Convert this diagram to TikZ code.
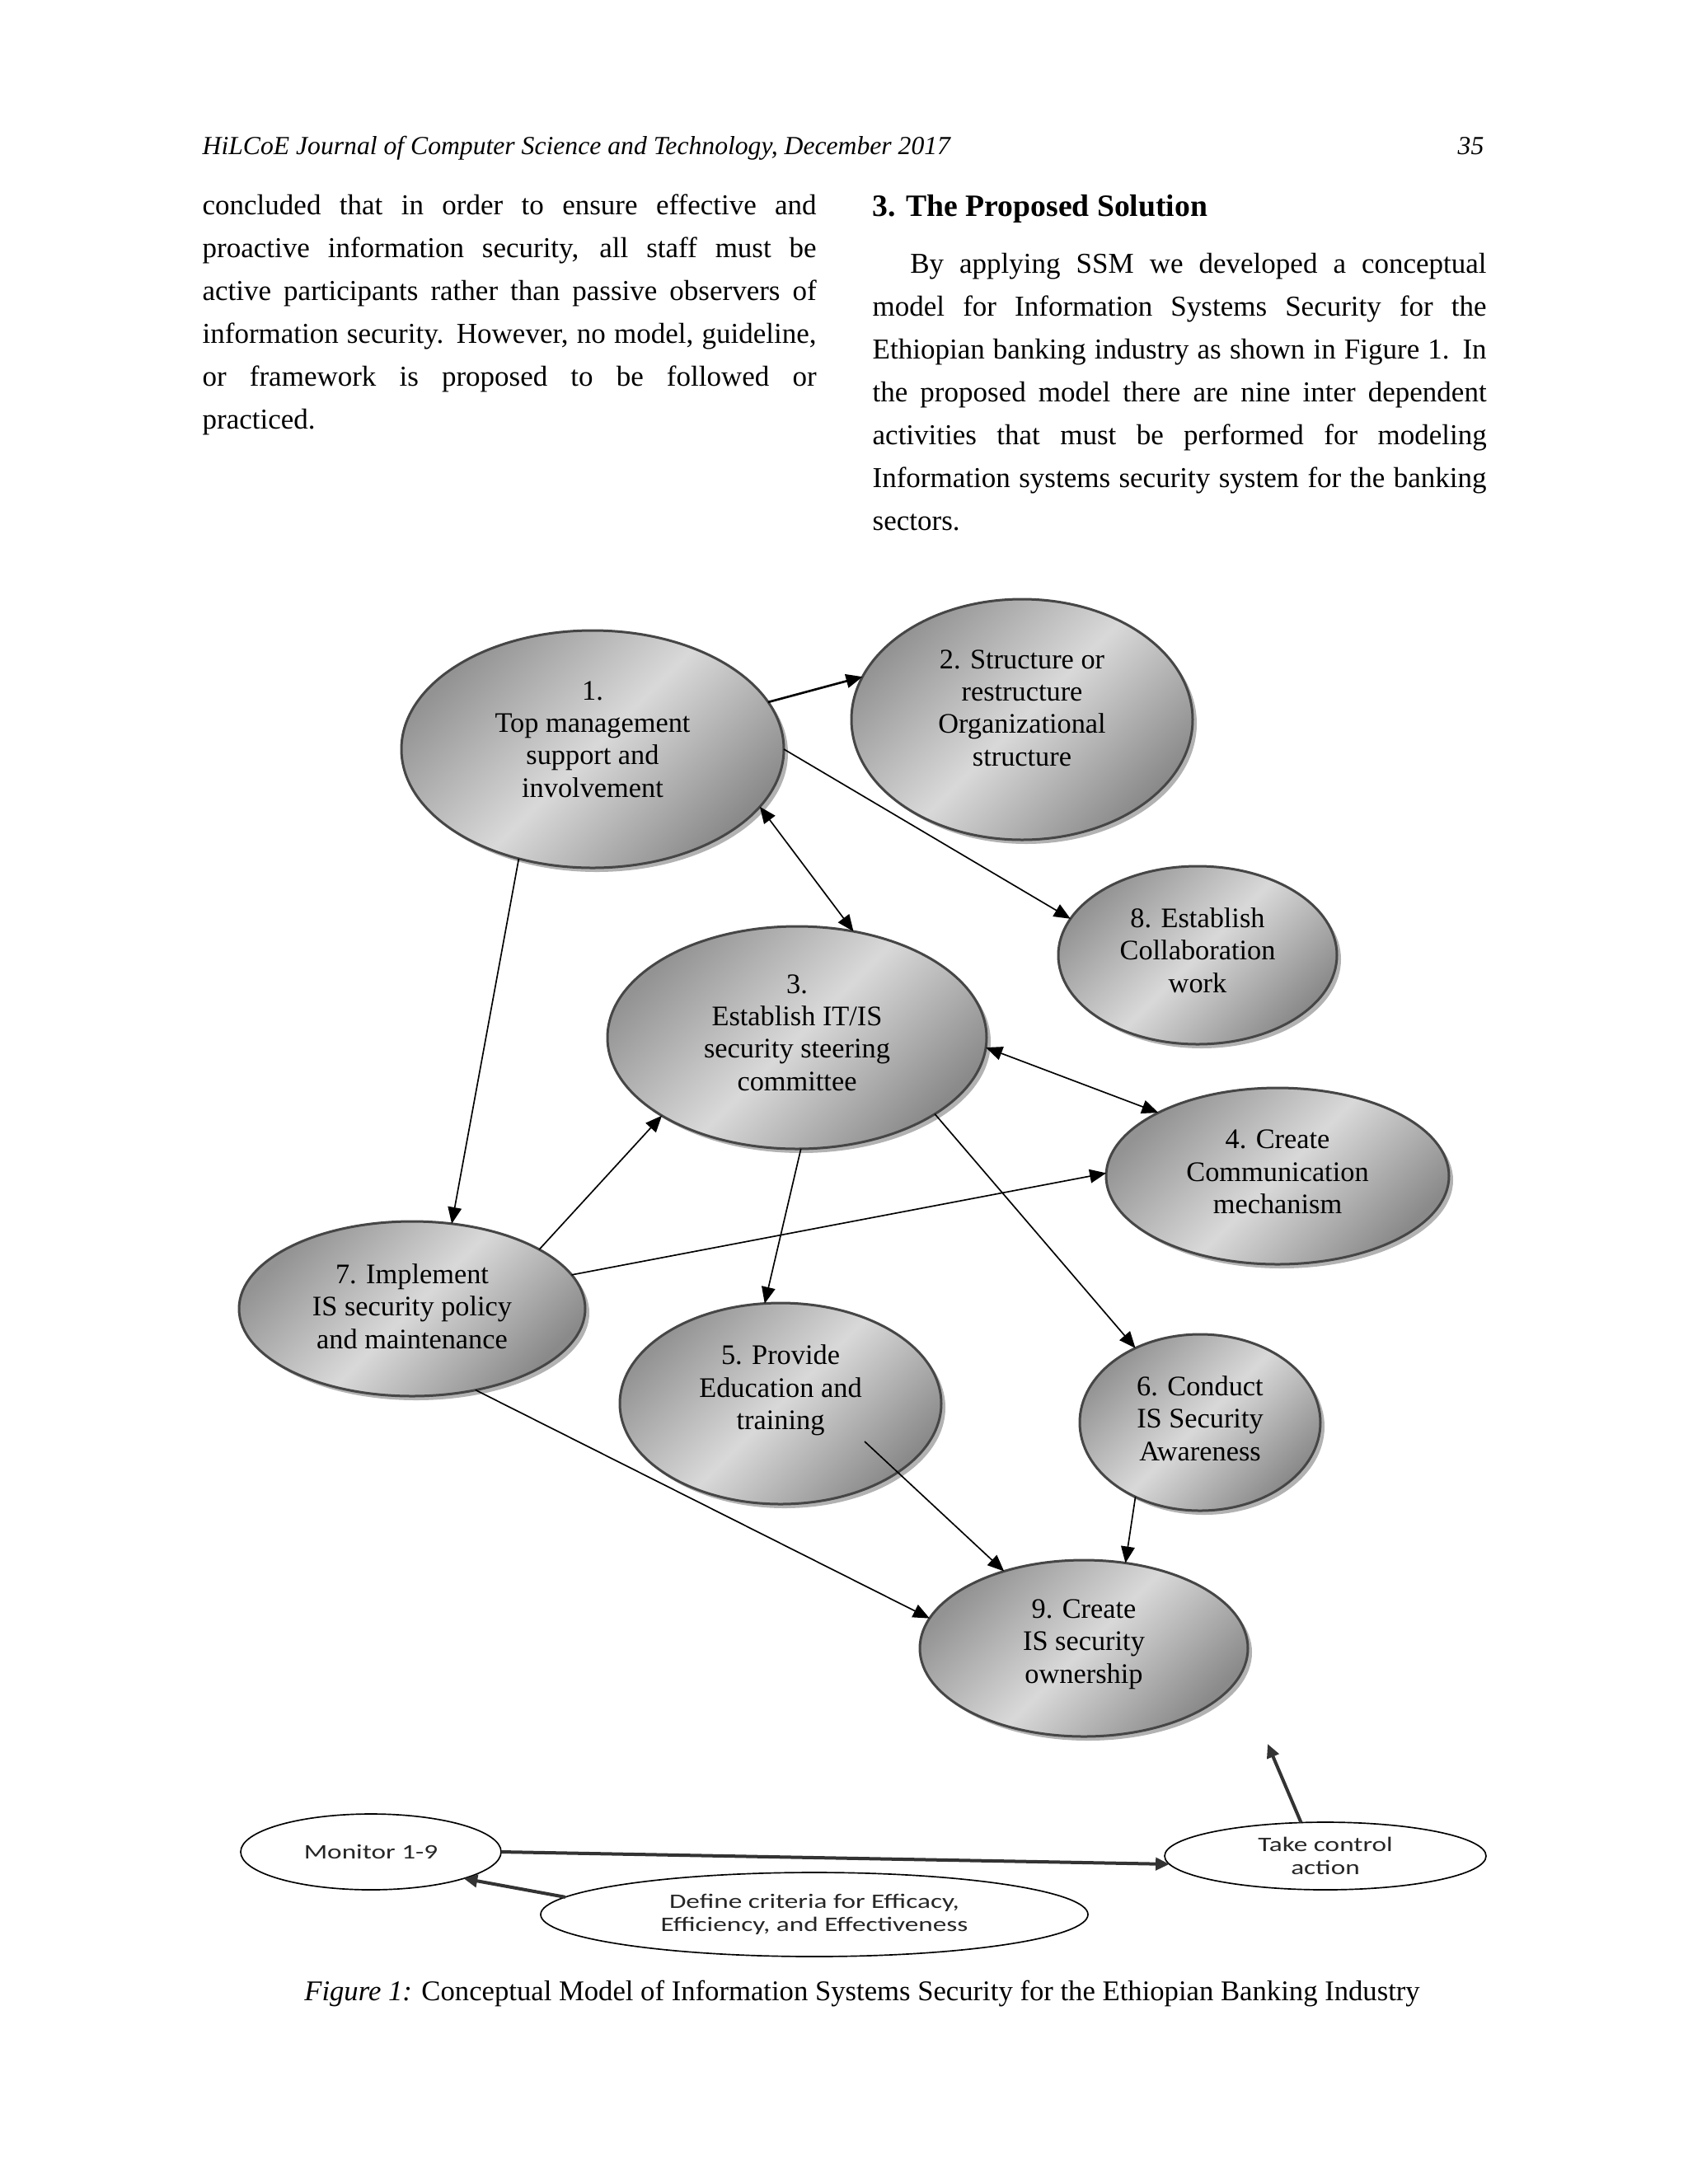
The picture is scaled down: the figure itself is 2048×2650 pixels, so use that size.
\documentclass[tikz,border=0pt]{standalone}
\usepackage{fontspec}
\setmainfont{Liberation Serif}
\newfontfamily\calibri{Carlito}[FakeStretch=1.33]
\usetikzlibrary{shapes.geometric,arrows.meta,shadows,calc}

\newcommand{\jl}[1]{\makebox[223.5pt][s]{#1}}

\tikzset{
  act/.style={ellipse, draw=gray!55!black, line width=0.9pt, inner sep=0pt, outer sep=0pt,
    left color=gray!85, right color=gray!92, middle color=gray!30, shading angle=45,
    drop shadow={shadow xshift=1.5pt, shadow yshift=-1.5pt, fill=gray!60, opacity=1}},
  acttxt/.style={align=center, inner sep=0pt, font=\fontsize{10.3}{11.8}\selectfont},
  ctl/.style={ellipse, draw=black, line width=0.5pt, fill=white, inner sep=0pt, outer sep=0pt,
    align=center, font=\calibri\fontsize{7.5}{8.4}\selectfont, text=black!85},
  flow/.style={-{Triangle[length=6pt,width=5pt]}, line width=0.5pt},
  dflow/.style={{Triangle[length=6pt,width=5pt]}-{Triangle[length=6pt,width=5pt]}, line width=0.5pt},
  ctlflow/.style={-{Triangle[length=5pt,width=4.5pt]}, line width=1.2pt, draw=black!80},
  body/.style={anchor=base west, align=left, inner sep=0pt, font=\fontsize{10.5}{15.57}\selectfont},
}

\begin{document}
\begin{tikzpicture}[x=0.3pt,y=-0.3pt]
  \fill[white] (0,0) rectangle (2048,2650);
  \useasboundingbox (0,0) rectangle (2048,2650);

  % page header and text (base = last line)
  \node[anchor=base west, inner sep=0pt, font=\itshape\fontsize{9.5}{11}\selectfont] (head) at (245,187)
    {HiLCoE Journal of Computer Science and Technology, December 2017};
  \node[anchor=base east, inner sep=0pt, font=\itshape\fontsize{9.5}{11}\selectfont] (pageno) at (1801,187) {35};

  \node[body] (colL) at (245,520) {%
    \jl{concluded that in order to ensure effective and}\\
    \jl{proactive information security, all staff must be}\\
    \jl{active participants rather than passive observers of}\\
    \jl{information security. However, no model, guideline,}\\
    \jl{or framework is proposed to be followed or}\\
    practiced.};

  \node[anchor=base west, inner sep=0pt, font=\bfseries\fontsize{11.3}{13}\selectfont] (sec) at (1058,262)
    {3. The Proposed Solution};
  \node[body] (colR) at (1058,643) {%
    \jl{\hspace{13.7pt}By applying SSM we developed a conceptual}\\
    \jl{model for Information Systems Security for the}\\
    \jl{Ethiopian banking industry as shown in Figure 1. In}\\
    \jl{the proposed model there are nine inter dependent}\\
    \jl{activities that must be performed for modeling}\\
    \jl{Information systems security system for the banking}\\
    sectors.};

  % activities
  \node[act, minimum width=139.2pt, minimum height=86.4pt] (n1) at (719,909) {};
  \node[act, minimum width=124.2pt, minimum height=87.6pt] (n2) at (1240,873) {};
  \node[act, minimum width=101.4pt, minimum height=64.8pt] (n8) at (1453,1159) {};
  \node[act, minimum width=138pt, minimum height=81pt] (n3) at (967,1259) {};
  \node[act, minimum width=124.8pt, minimum height=64.2pt] (n4) at (1550,1427) {};
  \node[act, minimum width=126pt, minimum height=63.6pt] (n7) at (500,1588) {};
  \node[act, minimum width=117pt, minimum height=73.2pt] (n5) at (947,1703) {};
  \node[act, minimum width=87.6pt, minimum height=64.2pt] (n6) at (1456,1726) {};
  \node[act, minimum width=119.4pt, minimum height=64.2pt] (n9) at (1315,2000) {};

  \node[acttxt] (t1) at (719,897) {1.\\Top management\\support and\\involvement};
  \node[acttxt] (t2) at (1240,859) {2. Structure or\\restructure\\Organizational\\structure};
  \node[acttxt] (t8) at (1453,1153) {8. Establish\\Collaboration\\work};
  \node[acttxt] (t3) at (967,1253) {3.\\Establish IT/IS\\security steering\\committee};
  \node[acttxt] (t4) at (1550,1422) {4. Create\\Communication\\mechanism};
  \node[acttxt] (t7) at (500,1585) {7. Implement\\IS security policy\\and maintenance};
  \node[acttxt] (t5) at (947,1687) {5. Provide\\Education and\\training};
  \node[acttxt] (t6) at (1456,1721) {6. Conduct\\IS Security\\Awareness};
  \node[acttxt] (t9) at (1315,1995) {9. Create\\IS security\\ownership};

  % links between activities
  \draw[flow, line width=0.8pt] (n1.15) -- (n2.165);
  \draw[flow] (n1.0) -- (n8.164);
  \draw[dflow] (n1.-19) -- (n3.62);
  \draw[flow] (n1.-124) -- (n7.65);
  \draw[dflow] (n3.-3) -- (n4.152);
  \draw[flow] (n7.25) -- (n3.-150);
  \draw[flow] (n7.12) -- (n4.179);
  \draw[flow] (n3.-88) -- (n5.99);
  \draw[flow] (n3.-29) -- (n6.131);
  \draw[flow] (n7.-52) -- (n9.169);
  \draw[flow] ($(n5)+(102,46)$) -- (n9.136);
  \draw[flow] (n6.-131) -- (n9.64);

  % monitoring and control
  \node[ctl, minimum width=94.8pt, minimum height=27.6pt] (mon) at (450,2247) {Monitor 1-9};
  \node[ctl, minimum width=117pt, minimum height=24.6pt] (take) at (1608,2252) {Take control\\action};
  \node[ctl, minimum width=199.2pt, minimum height=30.6pt] (crit) at (988,2323)
    {Define criteria for Efficacy,\\Efficiency, and Effectiveness};
  \coordinate (up) at (1538,2116);
  \draw[ctlflow] (take.126) -- (up);
  \draw[ctlflow] (mon.0) -- (take.183);
  \draw[ctlflow] (crit.176) -- (mon.-16);

  % caption
  \node[anchor=base, inner sep=0pt, font=\fontsize{10.4}{12}\selectfont] (cap) at (1046,2427)
    {\textit{Figure 1:} Conceptual Model of Information Systems Security for the Ethiopian Banking Industry};
\end{tikzpicture}
\end{document}
